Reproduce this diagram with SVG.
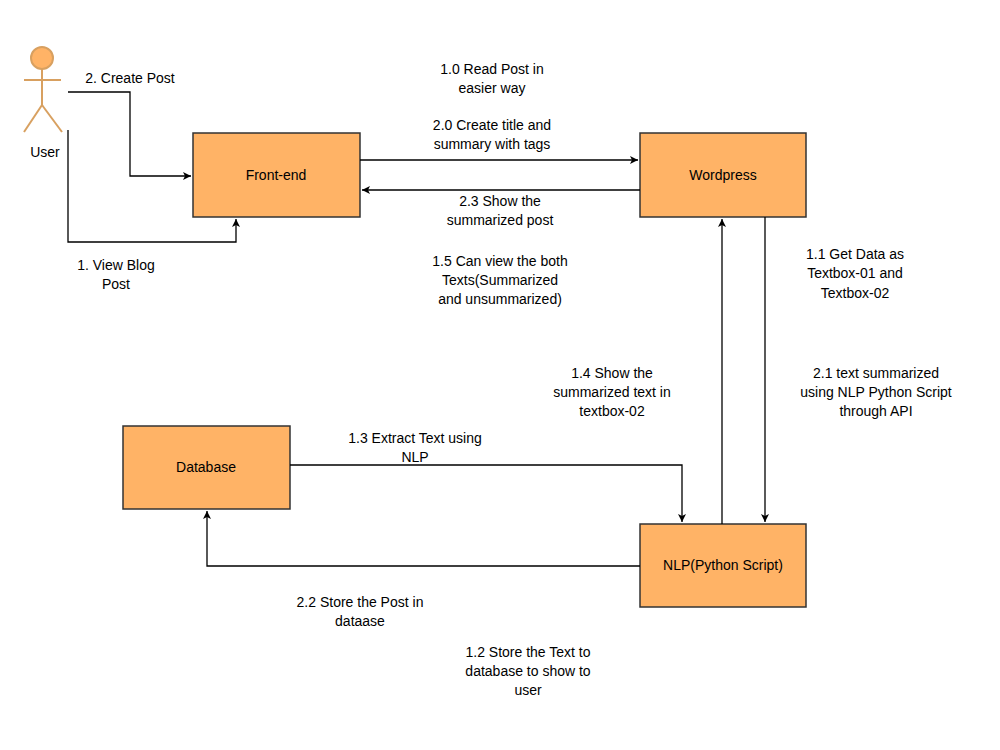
<svg xmlns="http://www.w3.org/2000/svg" width="1000" height="750" viewBox="0 0 1000 750">
<style>
.box{fill:#FFB366;stroke:#333;stroke-width:1.5}
.t{font-family:"Liberation Sans",Arial,sans-serif;font-size:14px;fill:#000;text-anchor:middle}
.l{fill:none;stroke:#000;stroke-width:1.3}
.a{stroke:#d8a060;stroke-width:2;fill:none}
</style>
<defs><marker id="ar" markerWidth="10" markerHeight="10" refX="9" refY="5" orient="auto" markerUnits="userSpaceOnUse"><path d="M1,1 L9,5 L1,9 L3,5 Z" fill="#000"/></marker></defs>
<rect width="1000" height="750" fill="#fff"/>
<g id="user">
<circle cx="42" cy="58" r="11" fill="#FFB366" stroke="#d8a060" stroke-width="2"/>
<line class="a" x1="42" y1="69" x2="42" y2="105"/>
<line class="a" x1="24" y1="80" x2="61" y2="80"/>
<line class="a" x1="42" y1="105" x2="24" y2="132"/>
<line class="a" x1="42" y1="105" x2="62" y2="132"/>
<text class="t" x="45" y="157">User</text>
</g>
<g id="frontend"><rect class="box" x="193" y="133" width="167" height="84"/><text class="t" x="276" y="180">Front-end</text></g>
<g id="wordpress"><rect class="box" x="640" y="133" width="166" height="84"/><text class="t" x="723" y="180">Wordpress</text></g>
<g id="database"><rect class="box" x="123" y="426" width="167" height="83"/><text class="t" x="206" y="472">Database</text></g>
<g id="nlp"><rect class="box" x="640" y="524" width="166" height="83"/><text class="t" x="723" y="570">NLP(Python Script)</text></g>
<g id="connectors">
<path class="l" d="M68,92 H130 V176 H191" marker-end="url(#ar)"/>
<path class="l" d="M68,130 V242 H236 V219" marker-end="url(#ar)"/>
<path class="l" d="M360,160 H638" marker-end="url(#ar)"/>
<path class="l" d="M640,190 H362" marker-end="url(#ar)"/>
<path class="l" d="M765,217 V522" marker-end="url(#ar)"/>
<path class="l" d="M722,524 V219" marker-end="url(#ar)"/>
<path class="l" d="M290,465 H682 V522" marker-end="url(#ar)"/>
<path class="l" d="M640,566 H207 V511" marker-end="url(#ar)"/>
</g>
<g id="labels">
<text class="t" x="130" y="83">2. Create Post</text>
<text class="t" x="116" y="270">1. View Blog</text><text class="t" x="116" y="289">Post</text>
<text class="t" x="492" y="74">1.0 Read Post in</text><text class="t" x="492" y="93">easier way</text>
<text class="t" x="492" y="130">2.0 Create title and</text><text class="t" x="492" y="149">summary with tags</text>
<text class="t" x="500" y="206">2.3 Show the</text><text class="t" x="500" y="225">summarized post</text>
<text class="t" x="500" y="266">1.5 Can view the both</text><text class="t" x="500" y="285">Texts(Summarized</text><text class="t" x="500" y="304">and unsummarized)</text>
<text class="t" x="855" y="259">1.1 Get Data as</text><text class="t" x="855" y="278">Textbox-01 and</text><text class="t" x="855" y="298">Textbox-02</text>
<text class="t" x="876" y="378">2.1 text summarized</text><text class="t" x="876" y="397">using NLP Python Script</text><text class="t" x="876" y="416">through API</text>
<text class="t" x="612" y="378">1.4 Show the</text><text class="t" x="612" y="397">summarized text in</text><text class="t" x="612" y="416">textbox-02</text>
<text class="t" x="415" y="443">1.3 Extract Text using</text><text class="t" x="415" y="462">NLP</text>
<text class="t" x="360" y="607">2.2 Store the Post in</text><text class="t" x="360" y="626">dataase</text>
<text class="t" x="528" y="657">1.2 Store the Text to</text><text class="t" x="528" y="676">database to show to</text><text class="t" x="528" y="695">user</text>
</g>
</svg>
